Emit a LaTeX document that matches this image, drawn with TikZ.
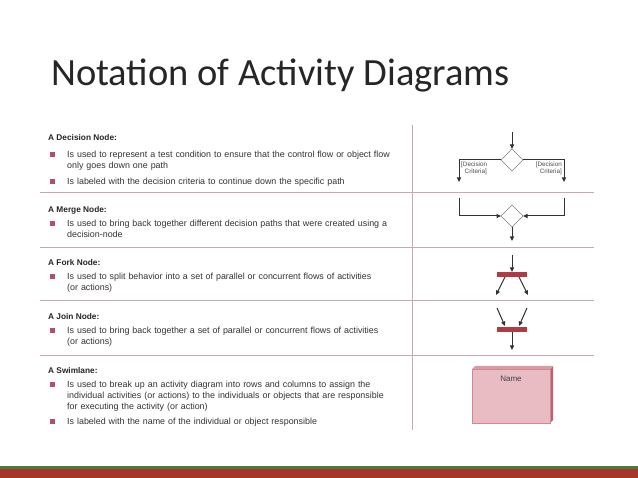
\documentclass[tikz,border=0pt]{standalone}
\usepackage{fontspec}
\setmainfont{Liberation Sans}
\newfontfamily\titlefont{Carlito}
\usetikzlibrary{arrows.meta}
\definecolor{barred}{HTML}{B03A48}
\definecolor{rule}{HTML}{C9A9B0}
\definecolor{boxpink}{HTML}{E9BCC4}
\definecolor{bullet}{HTML}{B0506A}
\definecolor{footred}{HTML}{A8342C}
\definecolor{footgreen}{HTML}{4E7A3A}
\begin{document}
\begin{tikzpicture}[x=1pt,y=-1pt,
  flow/.style={draw=black!80,line width=1pt,-{Triangle[length=4.5pt,width=4pt]}},
  dia/.style={draw=black!50,fill=white,line width=0.6pt},
  bar/.style={fill=barred,draw=none},
  head/.style={anchor=base west,font=\fontsize{8.3}{10}\selectfont\bfseries,inner sep=0,text=black!85},
  txt/.style={anchor=base west,font=\fontsize{8.9}{10.6}\selectfont,align=left,inner sep=0,text width=340pt,text=black!80},
  lbl/.style={font=\fontsize{6.3}{7}\selectfont,align=left,inner sep=0,text=black!70}]
\useasboundingbox (0,0) rectangle (638,478);
\fill[white] (0,0) rectangle (638,478);
\node[anchor=base west,inner sep=0,font=\titlefont\fontsize{38.5}{38}\selectfont,text=black!85] (title) at (51,86) {Notation of Activity Diagrams};
% table
\draw[rule,line width=0.7pt] (412,125) -- (412,430);
\foreach \y in {192,247,300,355} \draw[rule,line width=0.7pt] (40,\y) -- (594,\y);
\newcommand\bul[1]{\fill[bullet] (50,#1-5.5) rectangle +(4.5,4.5);}
\node[head] (h1) at (48,141) {A Decision Node:};
\bul{158}\node[txt] (t1) at (67,158) {Is used to represent a test condition to ensure that the control flow or object flow\\only goes down one path};
\bul{185}\node[txt] (t2) at (67,185) {Is labeled with the decision criteria to continue down the specific path};
\node[head] (h2) at (48,213) {A Merge Node:};
\bul{227}\node[txt] (t3) at (67,227) {Is used to bring back together different decision paths that were created using a\\decision-node};
\node[head] (h3) at (48,266) {A Fork Node:};
\bul{280}\node[txt] (t4) at (67,280) {Is used to split behavior into a set of parallel or concurrent flows of activities\\(or actions)};
\node[head] (h4) at (48,320) {A Join Node:};
\bul{334}\node[txt] (t5) at (67,334) {Is used to bring back together a set of parallel or concurrent flows of activities\\(or actions)};
\node[head] (h5) at (48,374) {A Swimlane:};
\bul{388}\node[txt] (t6) at (67,388) {Is used to break up an activity diagram into rows and columns to assign the\\individual activities (or actions) to the individuals or objects that are responsible\\for executing the activity (or action)};
\bul{425}\node[txt] (t7) at (67,425) {Is labeled with the name of the individual or object responsible};
% decision
\coordinate (d0) at (512,132);
\draw[dia] (512,149) coordinate (dt) -- (523,160) coordinate (dr) -- (512,171) -- (501,160) coordinate (dl) -- cycle;
\draw[flow] (d0) -- (dt);
\coordinate (dle) at (459,182); \coordinate (dre) at (564,182);
\draw[flow] (dl) -| (dle);
\draw[flow] (dr) -| (dre);
\node[lbl,anchor=north west] (c1) at (461,162) {[Decision\\\ \ Criteria]};
\node[lbl,anchor=north east,align=right] (c2) at (562,162) {[Decision\\Criteria]};
% merge
\coordinate (m1) at (459,198); \coordinate (m2) at (564,198);
\draw[dia] (512,205) -- (523,216) coordinate (mr) -- (512,227) coordinate (mb) -- (501,216) coordinate (ml) -- cycle;
\draw[flow] (m1) |- (ml);
\draw[flow] (m2) |- (mr);
\coordinate (mo) at (512,241);
\draw[flow] (mb) -- (mo);
% fork
\fill[bar] (497,272) rectangle (527,277);
\coordinate (f0) at (512,255); \coordinate (ft) at (512,272);
\draw[flow] (f0) -- (ft);
\coordinate (fa) at (505,277); \coordinate (fb) at (519,277);
\coordinate (fa2) at (496,295); \coordinate (fb2) at (528,295);
\draw[flow] (fa) -- (fa2); \draw[flow] (fb) -- (fb2);
% join
\fill[bar] (497,327) rectangle (527,332);
\coordinate (j1) at (497,308); \coordinate (j2) at (527,308);
\coordinate (j1e) at (505,326); \coordinate (j2e) at (519,326);
\draw[flow] (j1) -- (j1e); \draw[flow] (j2) -- (j2e);
\coordinate (jb) at (512,332); \coordinate (jo) at (512,350);
\draw[flow] (jb) -- (jo);
% swimlane
\fill[barred!80] (550,369) -- (553,366) -- (553,420) -- (550,423) -- cycle;
\fill[barred!50] (472,369) -- (475,366) -- (553,366) -- (550,369) -- cycle;
\fill[boxpink,draw=barred!60,line width=0.4pt] (472,369) rectangle (550,423);
\node[font=\fontsize{8}{8}\selectfont,text=black!75] (name) at (511,379) {Name};
% footer
\fill[footgreen] (0,466) rectangle (638,469);
\fill[footred] (0,469) rectangle (638,478);
\end{tikzpicture}
\end{document}
